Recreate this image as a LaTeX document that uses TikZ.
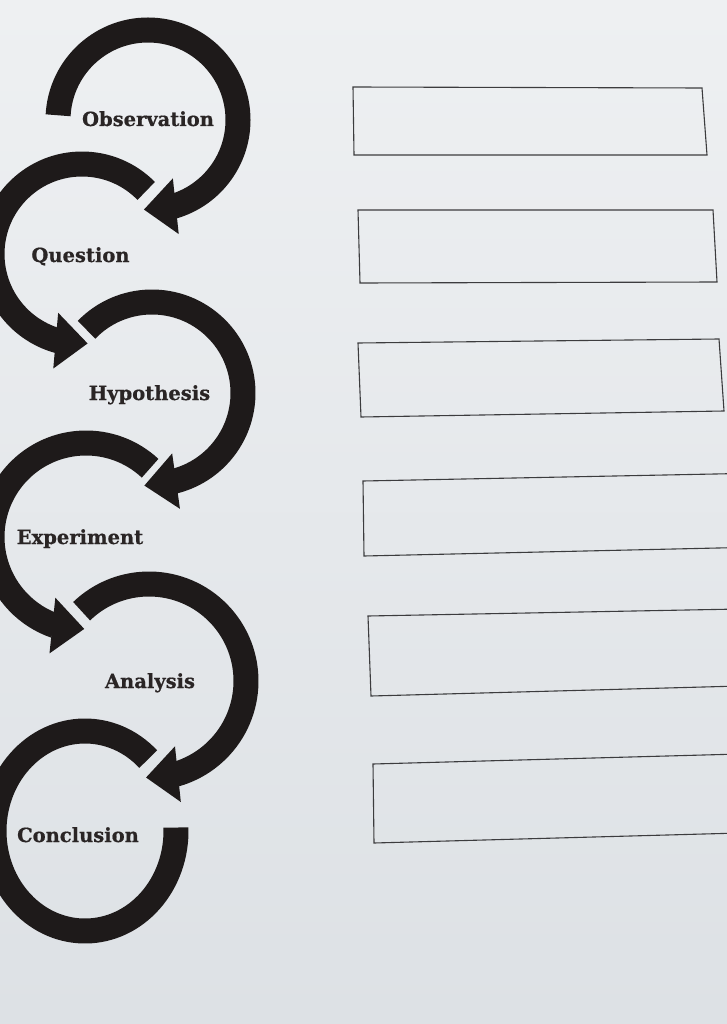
\documentclass[tikz,border=0pt]{standalone}
\usepackage{fontspec}
\setmainfont{DejaVu Serif}
\newfontfamily\lblfont{DejaVu Serif Bold}[FakeBold=0.6]
\usetikzlibrary{calc}
\definecolor{bandcol}{HTML}{1E1A1A}
\definecolor{txtcol}{HTML}{2A2525}
\definecolor{boxcol}{HTML}{3C3C3E}
\definecolor{bgtop}{HTML}{EEF0F2}
\definecolor{bgbot}{HTML}{DDE1E5}
% arrow head: #1 = end point of band, #2 = direction angle (screen, y down)
\newcommand{\arrhead}[2]{%
  \fill[ahead] ($#1+(#2:-3)+(#2+90:28)$) -- ($#1+(#2:29)$) -- ($#1+(#2:-3)+(#2-90:28)$) -- cycle;}
\begin{document}
\begin{tikzpicture}[x=1pt,y=-1pt,
  band/.style={draw=bandcol,line width=25pt},
  ahead/.style={fill=bandcol},
  lbl/.style={font=\lblfont\fontsize{19.5}{22}\selectfont,text=txtcol,inner sep=0pt,anchor=base},
  box/.style={draw=boxcol,line width=1.1pt,line join=miter}]
\useasboundingbox (0,0) rectangle (727,1024);
\shade[top color=bgtop,bottom color=bgbot] (0,0) rectangle (727,1024);
\begin{scope}
\clip (0,0) rectangle (727,1024);
% circle centres
\coordinate (c1) at (148,120);
\coordinate (c2) at (82,254);
\coordinate (c3) at (152,393);
\coordinate (c4) at (86,537);
\coordinate (c5) at (149,681);
\coordinate (c6) at (85,831);
% band ends
\coordinate (e1) at ($(c1)+(434:90)$);
\coordinate (e2) at ($(c2)+(105:90)$);
\coordinate (e3) at ($(c3)+(436.6:91)$);
\coordinate (e4) at ($(c4)+(109:94)$);
\coordinate (e5) at ($(c5)+(434.5:97)$);
% arc 1 (clockwise)
\draw[band] ($(c1)+(183:90)$) arc[start angle=183,end angle=434,radius=90];
\arrhead{(e1)}{174}
% arc 2 (counter-clockwise)
\draw[band] ($(c2)+(315.5:90)$) arc[start angle=315.5,end angle=105,radius=90];
\arrhead{(e2)}{5}
% arc 3
\draw[band] ($(c3)+(224:91)$) arc[start angle=224,end angle=436.6,radius=91];
\arrhead{(e3)}{172}
% arc 4
\draw[band] ($(c4)+(313:94)$) arc[start angle=313,end angle=109,radius=94];
\arrhead{(e4)}{6}
% arc 5
\draw[band] ($(c5)+(226:97)$) arc[start angle=226,end angle=434.5,radius=97];
\arrhead{(e5)}{174}
% arc 6 (no head)
\draw[band] ($(c6)+(314:91 and 100)$) arc[start angle=314,end angle=-2,x radius=91,y radius=100];
% labels
\node[lbl] (obs) at (148,126) {Observation};
\node[lbl] (que) at (80.5,262) {Question};
\node[lbl] (hyp) at (149.5,400) {Hypothesis};
\node[lbl] (exp) at (80,544) {Experiment};
\node[lbl] (ana) at (150,688) {Analysis};
\node[lbl] (con) at (78,842) {Conclusion};
% answer boxes
\draw[box] (353,87) -- (702,88) -- (707,155) -- (354,155) -- cycle;
\draw[box] (358,210) -- (713,210) -- (717,282) -- (360,283) -- cycle;
\draw[box] (358,343) -- (719,339) -- (724,411) -- (361,417) -- cycle;
\draw[box] (363,481) -- (740,473.5) -- (740,547.5) -- (364,556) -- cycle;
\draw[box] (368,616) -- (740,609) -- (740,686) -- (371,696) -- cycle;
\draw[box] (373,764) -- (740,754) -- (740,833) -- (374,843) -- cycle;
\end{scope}
\end{tikzpicture}
\end{document}
